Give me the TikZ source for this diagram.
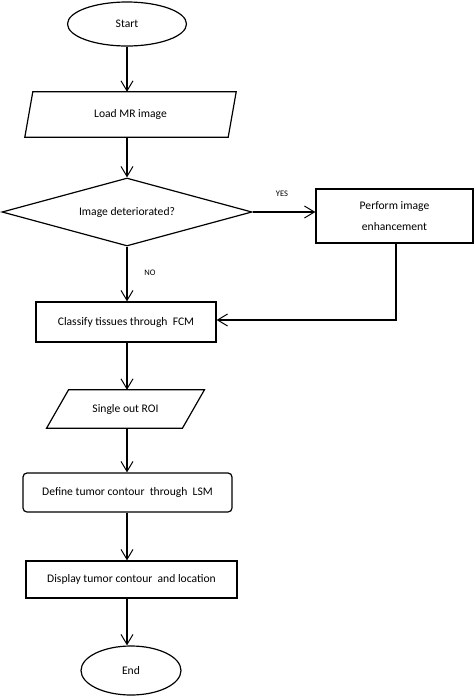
\documentclass[tikz,border=0pt]{standalone}
\usepackage{fontspec}
\setmainfont{Carlito}
\usetikzlibrary{shapes.geometric,arrows.meta}
\begin{document}
\begin{tikzpicture}[x=1pt,y=-1pt,
  every node/.style={font=\fontsize{11.6}{13}\selectfont, inner sep=0pt},
  lw/.style={line width=1.2pt},
  term/.style={ellipse, draw, lw},
  proc/.style={rectangle, draw, lw},
  io/.style={rectangle},
  dec/.style={diamond, draw, lw, aspect=3.7},
  lbl/.style={font=\fontsize{8.5}{9}\selectfont},
  arr/.style={lw, -{Straight Barb[length=10pt,width=12pt,line width=1pt]}}
]
\useasboundingbox (0,0) rectangle (474,697);
\coordinate (spine) at (127,0);

\node[term, minimum width=119, minimum height=44] (start) at (127,24) {Start};

\node[io, minimum width=203, minimum height=45] (load) at (130.5,114.5) {Load MR image};
\draw[lw] ([xshift=-4]load.south west) -- ([xshift=-4]load.south east)
  -- ([xshift=4]load.north east) -- ([xshift=4]load.north west) -- cycle;

\node[dec, minimum width=250, minimum height=68] (dec) at (127,212) {Image deteriorated?};

\node[proc, minimum width=157, minimum height=54, align=center,
  font=\fontsize{11.6}{21}\selectfont] (enh) at (394.5,216) {Perform image\\enhancement};

\node[proc, minimum width=180, minimum height=40] (cls) at (126,322) {Classify tissues through\ \ FCM};

\node[io, minimum width=135.5, minimum height=38] (roi) at (125.5,409) {Single out ROI};
\draw[lw] ([xshift=-11]roi.south west) -- ([xshift=-11]roi.south east)
  -- ([xshift=11]roi.north east) -- ([xshift=11]roi.north west) -- cycle;

\node[proc, rounded corners=4pt, minimum width=209, minimum height=39] (lsm) at (127.5,492.5) {Define tumor contour\ \ through\ \ LSM};

\node[proc, minimum width=211, minimum height=37] (disp) at (131.5,579.5) {Display tumor contour\ \ and location};

\node[term, minimum width=100, minimum height=49] (end) at (131,670.5) {End};

\node[lbl] (yes) at (282,194) {YES};
\node[lbl] (no) at (150,273) {NO};

\draw[arr] (start.south -| spine) -- (load.north -| spine);
\draw[arr] (load.south -| spine) -- (dec.north -| spine);
\draw[arr] (dec.east) -- (enh.west |- dec.east);
\draw[arr] (dec.south -| spine) -- (cls.north -| spine);
\draw[arr] ([xshift=1.5]enh.south) |- ([yshift=2]cls.east);
\draw[arr] (cls.south -| spine) -- (roi.north -| spine);
\draw[arr] (roi.south -| spine) -- (lsm.north -| spine);
\draw[arr] (lsm.south -| spine) -- (disp.north -| spine);
\draw[arr] (disp.south -| spine) -- (end.north -| spine);
\end{tikzpicture}
\end{document}
